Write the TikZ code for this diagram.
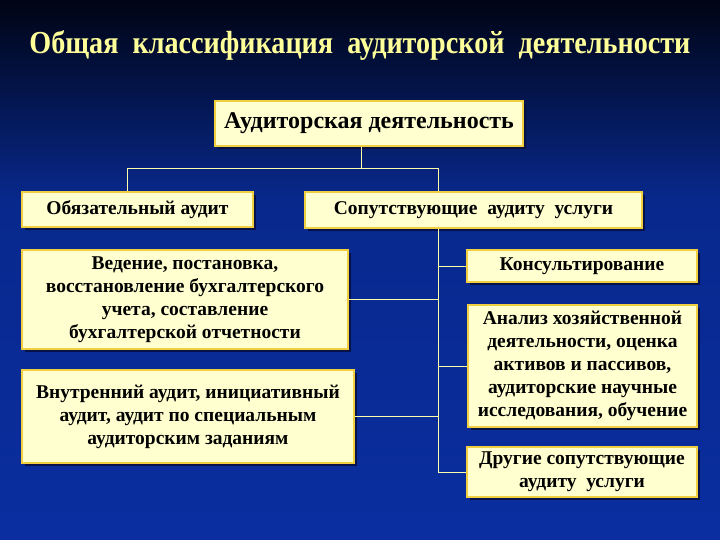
\documentclass[tikz,border=0pt]{standalone}
\usepackage{fontspec}
\setmainfont{Liberation Serif}
\newfontfamily\titlefont[FakeStretch=0.88]{Liberation Serif}
\usetikzlibrary{shadows}

\definecolor{bgtop}{RGB}{0,4,20}
\definecolor{bgmid}{RGB}{8,40,140}
\definecolor{bgblue}{RGB}{10,46,160}
\definecolor{boxfill}{RGB}{255,255,208}
\definecolor{boxedge}{RGB}{240,208,64}
\definecolor{linkcol}{RGB}{255,255,170}
\definecolor{titlecol}{RGB}{255,255,153}
\definecolor{shadowcol}{RGB}{6,16,64}

\tikzset{
  block/.style={draw=boxedge, line width=1.4pt, fill=boxfill, align=center,
    inner sep=1pt, font=\bfseries\fontsize{19.5}{23}\selectfont,
    drop shadow={shadow xshift=3pt, shadow yshift=-3pt, fill=shadowcol, opacity=0.9}},
  link/.style={draw=linkcol, line width=0.8pt},
}

\begin{document}
\begin{tikzpicture}[x=1pt,y=-1pt]
  \useasboundingbox (0,0) rectangle (720,540);
  % background
  \shade[top color=bgtop, bottom color=bgmid] (0,0) rectangle (720,200);
  \shade[top color=bgmid, bottom color=bgblue] (0,200) rectangle (720,540);

  \node[text=titlecol, font=\titlefont\bfseries\fontsize{32}{34}\selectfont] (title)
    at (360,46) {Общая\ \ классификация\ \ аудиторской\ \ деятельности};

  % boxes
  \node[block, minimum width=308pt, minimum height=45pt,
    font=\bfseries\fontsize{24}{26}\selectfont] (audit) at (369,123.5)
    {Аудиторская деятельность};
  \node[block, minimum width=231pt, minimum height=35pt] (oblig) at (137.5,209.5)
    {Обязательный аудит};
  \node[block, minimum width=337pt, minimum height=36pt] (soput) at (473.5,210)
    {Сопутствующие\ \ аудиту\ \ услуги};
  \node[block, minimum width=326pt, minimum height=99pt] (vedenie) at (185,299.5)
    {Ведение, постановка,\\восстановление бухгалтерского\\учета, составление\\бухгалтерской отчетности};
  \node[block, minimum width=332pt, minimum height=93pt] (vnutr) at (188,416.5)
    {Внутренний аудит, инициативный\\аудит, аудит по специальным\\аудиторским заданиям};
  \node[block, minimum width=230pt, minimum height=32pt] (konsult) at (582,266)
    {Консультирование};
  \node[block, minimum width=229pt, minimum height=122pt] (analiz) at (582.5,366)
    {Анализ хозяйственной\\деятельности, оценка\\активов и пассивов,\\аудиторские научные\\исследования, обучение};
  \node[block, minimum width=230pt, minimum height=50pt] (drugie) at (582,472)
    {Другие сопутствующие\\аудиту\ \ услуги};

  % connectors
  \coordinate (jm) at (361,168);
  \coordinate (jl) at (127,168);
  \coordinate (jr) at (438,168);
  \draw[link] (audit.south -| jm) -- (jm);
  \draw[link] (jl |- oblig.north) -- (jl) -- (jr) -- (jr |- soput.north);
  \draw[link] (jr |- soput.south) |- (drugie.west);
  \draw[link] (konsult.west) -- (konsult.west -| jr);
  \draw[link] (analiz.west) -- (analiz.west -| jr);
  \draw[link] (vedenie.east) -- (vedenie.east -| jr);
  \draw[link] (vnutr.east) -- (vnutr.east -| jr);
\end{tikzpicture}
\end{document}
